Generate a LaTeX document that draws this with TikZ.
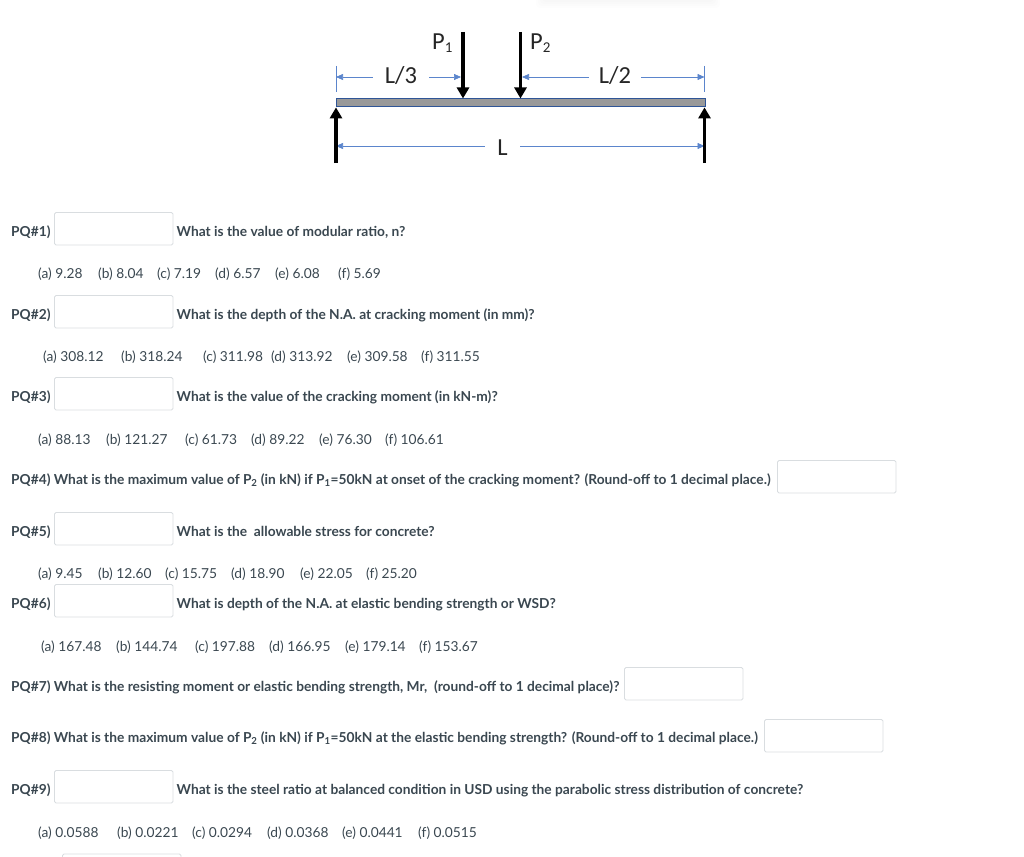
\documentclass[tikz,border=0pt]{standalone}
\usepackage{fontspec}
\setmainfont{Lato}
\newfontfamily\figfont{Carlito}
\usetikzlibrary{arrows.meta}
\definecolor{inktext}{HTML}{3A4750}
\definecolor{dimblue}{HTML}{5B85CC}
\definecolor{beamblue}{HTML}{2F5597}
\definecolor{boxline}{HTML}{D9DDE0}
\tikzset{
  question/.style={anchor=base west,inner sep=0pt,text=inktext,font=\fontsize{13.75}{15}\selectfont\bfseries},
  option/.style={anchor=base west,inner sep=0pt,text=inktext,font=\fontsize{13.75}{15}\selectfont},
  answerbox/.style={draw=boxline,line width=0.9pt,rounded corners=1.5pt,minimum width=118.5pt,minimum height=32.5pt,anchor=north west,inner sep=0pt},
  force/.style={line width=3.2pt,-{Triangle[length=11pt,width=12pt]}},
  dimline/.style={draw=dimblue,line width=0.6pt},
  dimarrow/.style={dimline,-{Triangle[length=7pt,width=6pt]}},
  dimlabel/.style={inner sep=0pt,text=black!85,font=\figfont\fontsize{24.5}{26}\selectfont},
  loadlabel/.style={anchor=base west,inner sep=0pt,text=black!85,font=\figfont\fontsize{24.5}{26}\selectfont}
}
\begin{document}
\begin{tikzpicture}[x=1pt,y=-1pt]
  \useasboundingbox (0,0) rectangle (1024,856);
  % shadow at the top edge
  \foreach \s in {0,2,4,6,8,10,12,14}
    \fill[black,opacity=0.008,rounded corners=4pt] ({536+\s},-8) rectangle ({720-\s},{8-\s});

  % beam
  \node[draw=beamblue,fill=black!40,line width=0.9pt,minimum width=369pt,minimum height=8pt,inner sep=0pt,anchor=north west] (beam) at (336,98.5) {};
  \coordinate (topA) at (336,77);
  \coordinate (topB) at (704.5,77);
  \coordinate (loadA) at (461,77);
  \coordinate (loadB) at (522,77);
  \coordinate (lowA) at (336,146);
  \coordinate (lowB) at (704.5,146);
  \coordinate (tickAa) at (336,66);
  \coordinate (tickAb) at (336,92);
  \coordinate (tickBa) at (704.5,66);
  \coordinate (tickBb) at (704.5,92);
  \draw[dimline] (tickAa) -- (tickAb);
  \draw[dimline] (tickBa) -- (tickBb);

  % dimensions
  \node[dimlabel,minimum width=56pt,minimum height=24pt] (third) at (401,76) {L/3};
  \node[dimlabel,minimum width=52pt,minimum height=24pt] (half) at (615,76) {L/2};
  \node[dimlabel,minimum width=35pt,minimum height=24pt] (span) at (502.5,148) {L};
  \draw[dimarrow] (third.west |- topA) -- (topA);
  \draw[dimarrow] (third.east |- topA) -- (loadA);
  \draw[dimarrow] (half.west |- topA) -- (loadB);
  \draw[dimarrow] (half.east |- topA) -- (topB);
  \draw[dimarrow] (span.west |- lowA) -- (lowA);
  \draw[dimarrow] (span.east |- lowA) -- (lowB);

  % loads and reactions
  \coordinate (pA) at (463,32);
  \coordinate (pB) at (520.5,32);
  \coordinate (rA) at (336,163);
  \coordinate (rB) at (704.5,163);
  \draw[force] (pA) -- (beam.north west -| pA);
  \draw[force] (pB) -- (beam.north west -| pB);
  \draw[force] (rA) -- (beam.south west -| rA);
  \draw[force] (rB) -- (beam.south west -| rB);
  \node[loadlabel] (pone) at (432,50) {P\raisebox{-2.5pt}{\fontsize{15}{16}\selectfont 1}};
  \node[loadlabel] (ptwo) at (530,50) {P\raisebox{-2.5pt}{\fontsize{15}{16}\selectfont 2}};

  % questions
  \node[question] (qone) at (11,236) {PQ\#1)};
  \node[answerbox] (boxone) at (54,212) {};
  \node[question] (qonetext) at (176.5,236) {What is the value of modular ratio, n?};
  \foreach \x/\t in {38/(a) 9.28,98/(b) 8.04,157/(c) 7.19,215/(d) 6.57,275/(e) 6.08,338/(f) 5.69}
    \node[option] (optone\x) at (\x,278) {\t};

  \node[question] (qtwo) at (11,319) {PQ\#2)};
  \node[answerbox] (boxtwo) at (54,295) {};
  \node[question] (qtwotext) at (176.5,319) {What is the depth of the N.A. at cracking moment (in mm)?};
  \foreach \x/\t in {43/(a) 308.12,121/(b) 318.24,203/(c) 311.98,271/(d) 313.92,347/(e) 309.58,421/(f) 311.55}
    \node[option] (opttwo\x) at (\x,361) {\t};

  \node[question] (qthree) at (11,401) {PQ\#3)};
  \node[answerbox] (boxthree) at (54,377) {};
  \node[question] (qthreetext) at (176.5,401) {What is the value of the cracking moment (in kN-m)?};
  \foreach \x/\t in {38/(a) 88.13,106/(b) 121.27,185/(c) 61.73,251/(d) 89.22,319/(e) 76.30,385/(f) 106.61}
    \node[option] (optthree\x) at (\x,444) {\t};

  \node[question] (qfour) at (11,484) {PQ\#4) What is the maximum value of P\textsubscript{2} (in kN) if P\textsubscript{1}=50kN at onset of the cracking moment? (Round-off to 1 decimal place.)};
  \node[answerbox] (boxfour) at (777,460) {};

  \node[question] (qfive) at (11,536) {PQ\#5)};
  \node[answerbox] (boxfive) at (54,512) {};
  \node[question] (qfivetext) at (176.5,536) {What is the\ \ allowable stress for concrete?};
  \foreach \x/\t in {38/(a) 9.45,98/(b) 12.60,165/(c) 15.75,231/(d) 18.90,300/(e) 22.05,366/(f) 25.20}
    \node[option] (optfive\x) at (\x,578) {\t};

  \node[question] (qsix) at (11,608) {PQ\#6)};
  \node[answerbox] (boxsix) at (54,584) {};
  \node[question] (qsixtext) at (176.5,608) {What is depth of the N.A. at elastic bending strength or WSD?};
  \foreach \x/\t in {41/(a) 167.48,116/(b) 144.74,195/(c) 197.88,269/(d) 166.95,345/(e) 179.14,419/(f) 153.67}
    \node[option] (optsix\x) at (\x,651) {\t};

  \node[question] (qseven) at (11,691) {PQ\#7) What is the resisting moment or elastic bending strength, Mr,\ \ (round-off to 1 decimal place)?};
  \node[answerbox] (boxseven) at (624,667) {};

  \node[question] (qeight) at (11,742) {PQ\#8) What is the maximum value of P\textsubscript{2} (in kN) if P\textsubscript{1}=50kN at the elastic bending strength? (Round-off to 1 decimal place.)};
  \node[answerbox] (boxeight) at (764,719) {};

  \node[question] (qnine) at (11,794) {PQ\#9)};
  \node[answerbox] (boxnine) at (54,770) {};
  \node[question] (qninetext) at (176.5,794) {What is the steel ratio at balanced condition in USD using the parabolic stress distribution of concrete?};
  \foreach \x/\t in {38/(a) 0.0588,117/(b) 0.0221,192/(c) 0.0294,267/(d) 0.0368,342/(e) 0.0441,418/(f) 0.0515}
    \node[option] (optnine\x) at (\x,837) {\t};

  % box cut off by the lower edge
  \begin{scope}
    \clip (0,0) rectangle (1024,856);
    \node[answerbox] (boxten) at (62,853.5) {};
  \end{scope}
\end{tikzpicture}
\end{document}
